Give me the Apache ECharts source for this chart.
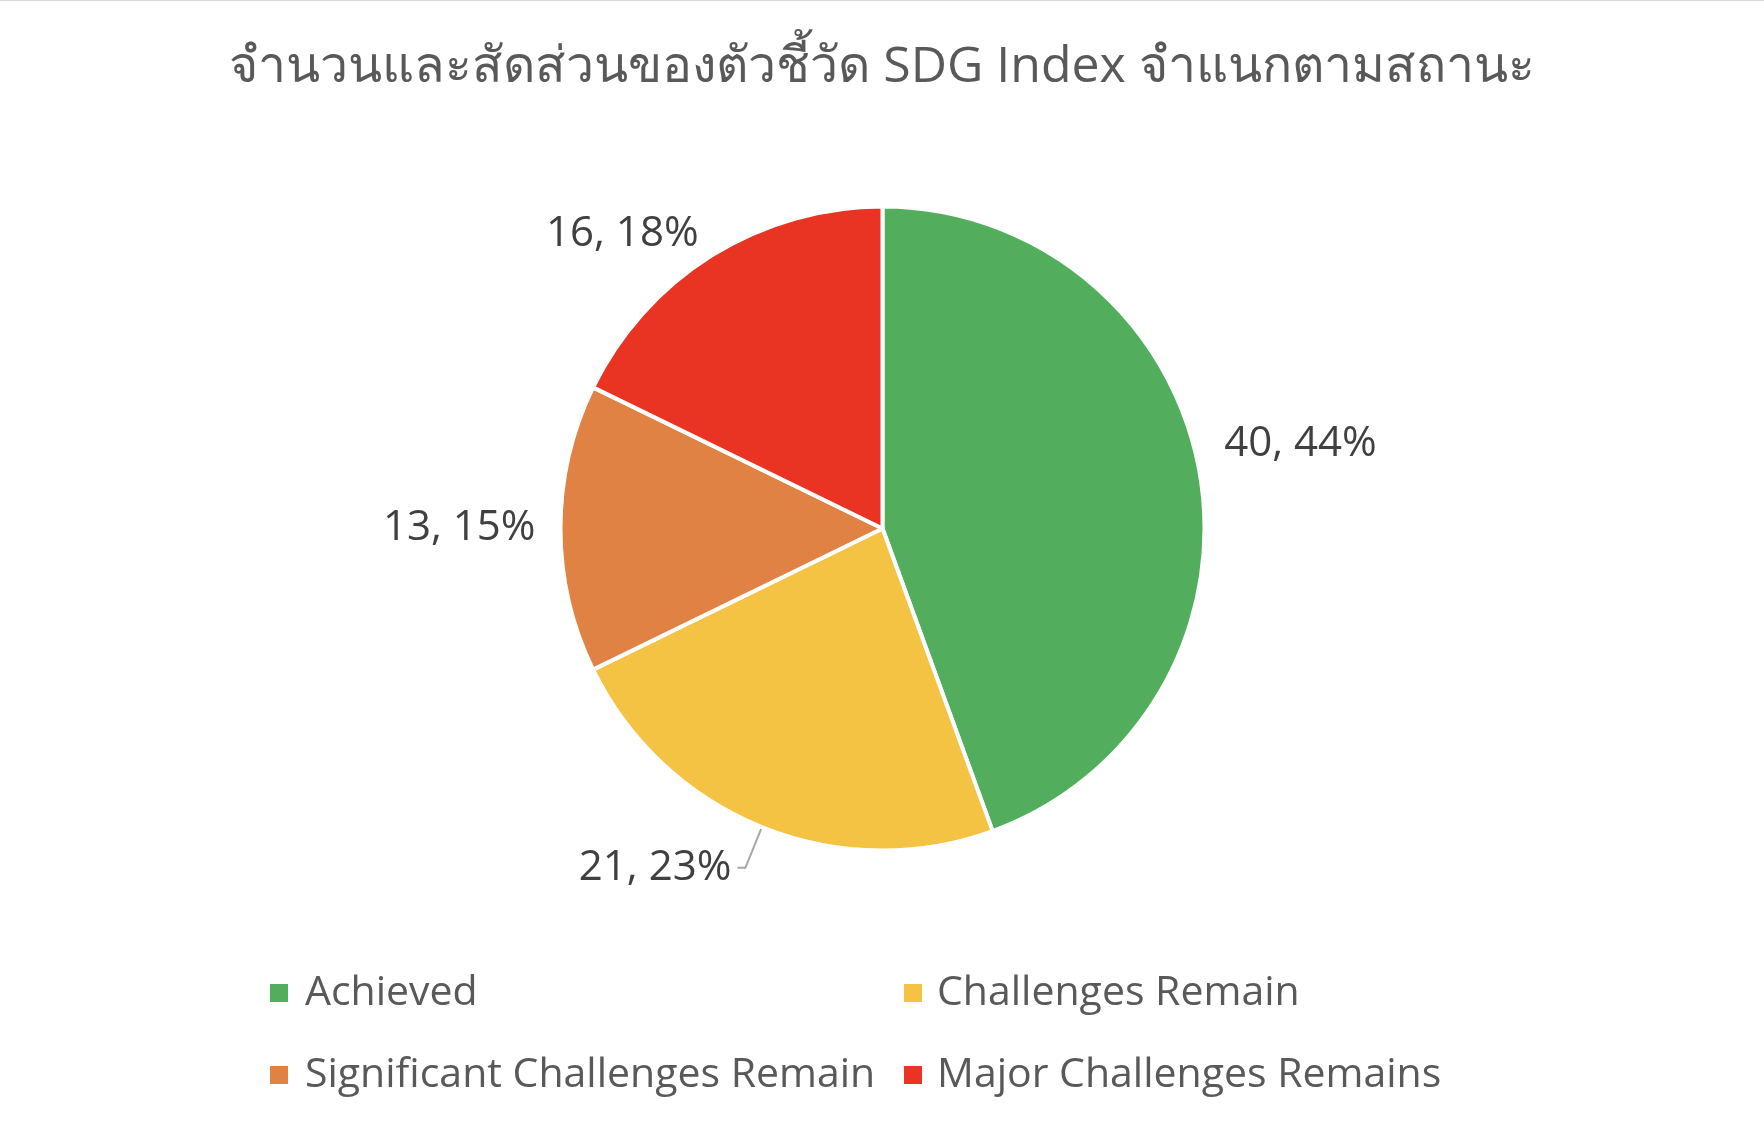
<!DOCTYPE html>
<html>
<head>
<meta charset="utf-8">
<script src="https://cdn.jsdelivr.net/npm/echarts@6/dist/echarts.min.js"></script>
<style>
  html, body { margin: 0; padding: 0; background: #ffffff; }
  #chart { width: 1764px; height: 1131px; border-top: 1px solid #D9D9D9; }
</style>
</head>
<body>
<div id="chart"></div>
<script>
const titleText = 'จำนวนและสัดส่วนของตัวชี้วัด SDG Index จำแนกตามสถานะ';
const categories = ['Achieved', 'Challenges Remain', 'Significant Challenges Remain', 'Major Challenges Remains'];
const counts = [40, 21, 13, 16];
const percentLabels = [44, 23, 15, 18];
const colors = ['#52AE5D', '#F4C343', '#DF8244', '#E93323'];

const FONT = '"Open Sans", "Noto Sans", sans-serif';

const seriesData = categories.map(function (name, i) {
  const item = { name: name, value: counts[i], pct: percentLabels[i], itemStyle: { color: colors[i] } };
  if (i === 1) {
    item.labelLine = { show: true, length: 44, length2: 8, lineStyle: { color: '#A6A6A6', width: 2 } };
    item.label = { distanceToLabelLine: 6 };
  }
  return item;
});

const chart = echarts.init(document.getElementById('chart'), null, { renderer: 'canvas' });
chart.setOption({
  backgroundColor: '#ffffff',
  animation: false,
  title: {
    text: titleText,
    left: 'center',
    top: 37,
    textStyle: { fontFamily: FONT, fontSize: 50, fontWeight: 'normal', color: '#595959' }
  },
  legend: [
    {
      data: [categories[0], categories[2]],
      orient: 'vertical',
      left: 268,
      top: 967,
      padding: 0,
      icon: 'rect',
      itemWidth: 20,
      itemHeight: 20,
      itemGap: 32,
      selectedMode: false,
      textStyle: { fontFamily: FONT, fontSize: 41, color: '#595959', lineHeight: 50, padding: [0, 0, 0, 11] }
    },
    {
      data: [categories[1], categories[3]],
      orient: 'vertical',
      left: 902,
      top: 967,
      padding: 0,
      icon: 'rect',
      itemWidth: 20,
      itemHeight: 20,
      itemGap: 32,
      selectedMode: false,
      textStyle: { fontFamily: FONT, fontSize: 41, color: '#595959', lineHeight: 50, padding: [0, 0, 0, 9] }
    }
  ],
  series: [{
    type: 'pie',
    center: [882.5, 527.5],
    radius: [0, 322],
    startAngle: 90,
    clockwise: true,
    avoidLabelOverlap: false,
    itemStyle: { borderColor: '#ffffff', borderWidth: 4 },
    label: {
      show: true,
      position: 'outside',
      distanceToLabelLine: 0,
      fontFamily: FONT,
      fontSize: 42,
      color: '#404040',
      formatter: function (p) { return p.value + ', ' + p.data.pct + '%'; }
    },
    labelLine: { show: false, length: 25, length2: 0 },
    labelLayout: function (params) {
      if (params.dataIndex === 0) { return { dy: -24 }; }
      return {};
    },
    emphasis: { disabled: true },
    data: seriesData
  }]
});
</script>
</body>
</html>
